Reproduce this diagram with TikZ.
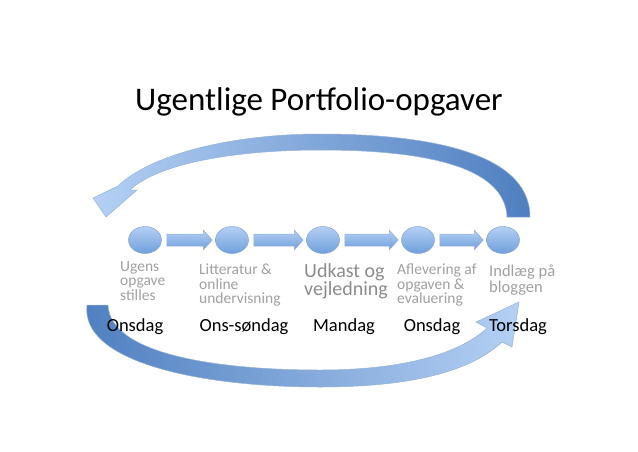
\documentclass[tikz,border=0pt]{standalone}
\usepackage{fontspec}
\setmainfont{Carlito}
\usetikzlibrary{shapes.geometric,calc}
\definecolor{bl}{HTML}{6F9FDC}
\definecolor{bll}{HTML}{B4D0F4}
\definecolor{bld}{HTML}{4F7FC0}
\definecolor{gr}{HTML}{A0A0A0}
\tikzset{
 dot/.style={ellipse,minimum width=33pt,minimum height=27pt,inner sep=0pt,top color=bll,bottom color=bl,draw=bld!70,line width=0.5pt},
 blk/.style={top color=bll,bottom color=bl,draw=bld!60,line width=0.5pt},
 lbl/.style={anchor=north west,align=left,text=gr,font=\fontsize{15.5}{14.5}\selectfont,inner sep=0pt},
 day/.style={font=\fontsize{18.5}{20}\selectfont,inner sep=0pt,anchor=base}
}
\begin{document}
\begin{tikzpicture}[x=1pt,y=-1pt]
\useasboundingbox (0,0) rectangle (638,451);
\node[font=\fontsize{33}{36}\selectfont] (title) at (319,102) {Ugentlige Portfolio-opgaver};
% top curved arrow
\path[blk,left color=bll,right color=bld] (530,217) .. controls (530,150) and (420,134) .. (320,134) .. controls (230,134) and (150,155) .. (118,186) -- (93,198) -- (106,217) -- (137,190) -- (130,190) .. controls (160,162) and (240,150) .. (320,150) .. controls (420,150) and (505,165) .. (507,217) -- cycle;
% bottom curved arrow
\path[blk,left color=bld,right color=bll] (87,305) .. controls (80,362) and (200,387) .. (320,387) .. controls (410,387) and (470,372) .. (502,342) -- (512,347) -- (519,302) -- (476,322) -- (487,328) .. controls (458,355) and (400,370) .. (320,370) .. controls (220,370) and (110,355) .. (108,305) -- cycle;
% dots
\node[dot] (a) at (145,240) {};
\node[dot] (b) at (232,240) {};
\node[dot] (c) at (323,240) {};
\node[dot] (d) at (418,240) {};
\node[dot] (e) at (503,240) {};
% block arrows
\foreach \p/\q in {a/b,b/c,c/d,d/e}{
 \path (\p.east) ++(5,0) coordinate (s\p);
 \path (\q.west) ++(-3,0) coordinate (t\p);
 \path[blk] ($(s\p)+(0,-6)$) -- ($(t\p)+(-9,-6)$) -- ($(t\p)+(-9,-10)$) -- (t\p) -- ($(t\p)+(-9,10)$) -- ($(t\p)+(-9,6)$) -- ($(s\p)+(0,6)$) -- cycle;
}
% labels
\node[lbl] (la) at (120,261) {Ugens\\opgave\\stilles};
\node[lbl] (lb) at (199,264) {Litteratur \&\\online\\undervisning};
\node[lbl,text=gray!90,font=\fontsize{20}{18.5}\selectfont] (lc) at (304,263) {Udkast og\\vejledning};
\node[lbl] (ld) at (397,264) {Aflevering af\\opgaven \&\\evaluering};
\node[lbl,font=\fontsize{16.5}{15.5}\selectfont] (le) at (489,265) {Indlæg på\\bloggen};
\node[day] (da) at (135,331) {Onsdag};
\node[day] (db) at (244,331) {Ons-søndag};
\node[day] (dc) at (344,331) {Mandag};
\node[day] (dd) at (432,331) {Onsdag};
\node[day] (de) at (518,331) {Torsdag};
\end{tikzpicture}
\end{document}
